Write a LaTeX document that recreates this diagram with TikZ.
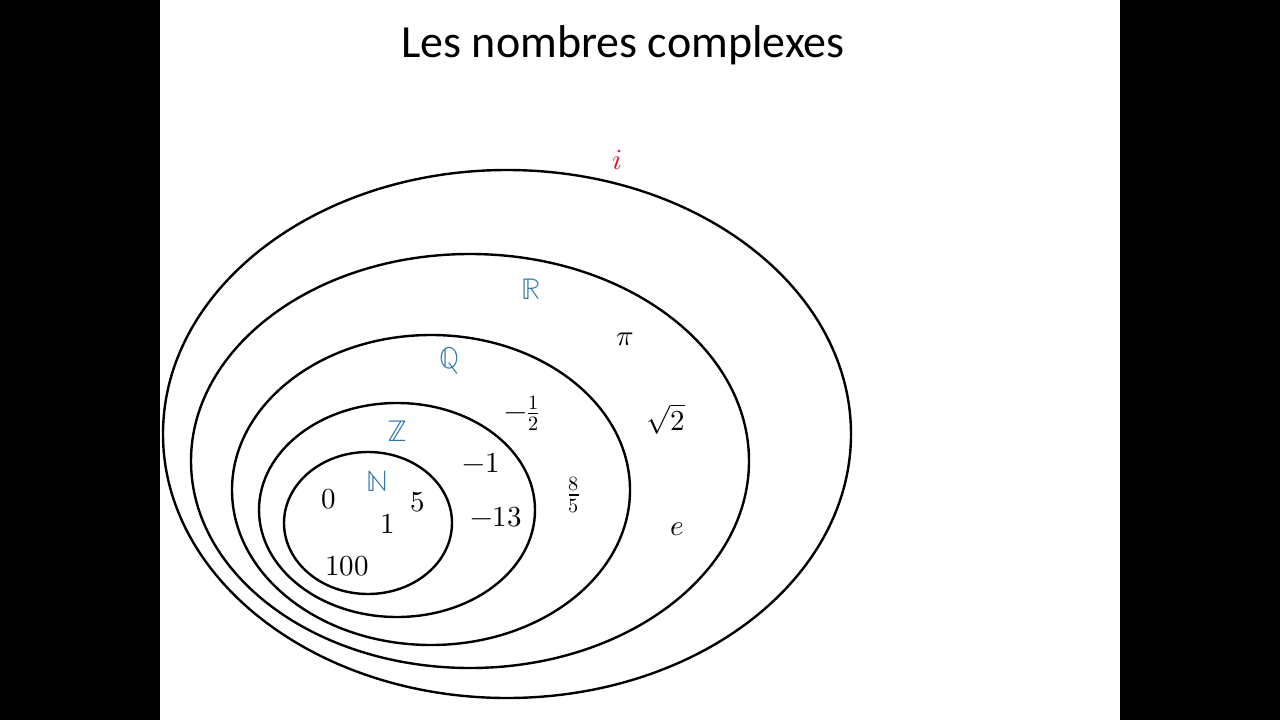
\documentclass[tikz,border=0pt]{standalone}
\usepackage{fontspec}
\usepackage{unicode-math}
\setmainfont{Carlito}
\setmathfont{Latin Modern Math}
\definecolor{setblue}{RGB}{46,117,182}
\definecolor{ired}{RGB}{220,20,30}
\begin{document}
\begin{tikzpicture}[x=1pt,y=-1pt,
  setline/.style={draw=black,line width=2.4pt},
  setname/.style={text=setblue,font=\fontsize{30}{34}\selectfont},
  elem/.style={font=\fontsize{29}{34}\selectfont}]
\fill[black] (0,0) rectangle (1280,720);
\fill[white] (160,0) rectangle (1120,720);
\useasboundingbox (0,0) rectangle (1280,720);
\node[font=\fontsize{46}{50}\selectfont] (title) at (623,45) {Les nombres complexes};
\draw[setline] (507,434) ellipse [x radius=344,y radius=264];
\draw[setline] (470,461) ellipse [x radius=279,y radius=207];
\draw[setline] (431,490) ellipse [x radius=199,y radius=155];
\draw[setline] (397,510) ellipse [x radius=138,y radius=107];
\draw[setline] (368,523) ellipse [x radius=84,y radius=71];
\node[elem,text=ired] (i) at (617,160) {$i$};
\node[setname] (R) at (531,289) {$\mathbb{R}$};
\node[setname] (Q) at (449,361) {$\mathbb{Q}$};
\node[setname] (Z) at (398,431) {$\mathbb{Z}$};
\node[setname] (N) at (377,481) {$\mathbb{N}$};
\node[elem] (pi) at (625,339) {$\pi$};
\node[elem] (sq) at (666,419) {$\sqrt{2}$};
\node[elem] (e) at (677,529) {$e$};
\node[elem] (half) at (522,413) {$-\frac{1}{2}$};
\node[elem] (eight) at (574,495) {$\frac{8}{5}$};
\node[elem] (m1) at (481,463) {$-1$};
\node[elem] (m13) at (496,517) {$-13$};
\node[elem] (zero) at (329,499) {$0$};
\node[elem] (five) at (418,502) {$5$};
\node[elem] (one) at (388,524) {$1$};
\node[elem] (hund) at (347,566) {$100$};
\end{tikzpicture}
\end{document}
